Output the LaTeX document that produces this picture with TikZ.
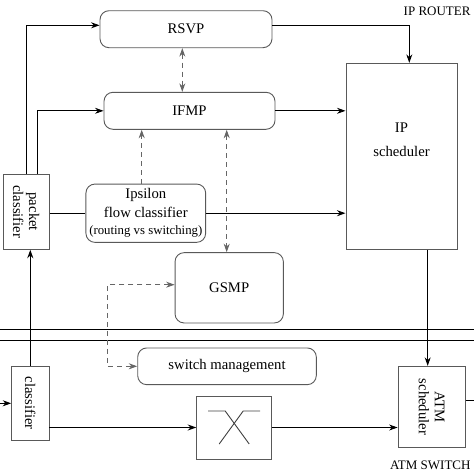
\documentclass[tikz,border=0pt]{standalone}
\usepackage{fontspec}
\setmainfont{Liberation Serif}
\usepackage{tikz}
\usetikzlibrary{arrows.meta}

\tikzset{
  rbox/.style={draw=black!65, line width=0.9pt, rounded corners=9pt, font=\fontsize{14.7}{18.5}\selectfont, align=center},
  sbox/.style={draw=black!65, line width=0.9pt, font=\fontsize{14.7}{18.5}\selectfont, align=center},
  vlabel/.style={rotate=-90, align=center, font=\fontsize{14.7}{16}\selectfont},
  dataline/.style={line width=1.3pt},
  ctrl/.style={line width=0.9pt, dashed, draw=black!60, dash pattern=on 5pt off 4pt},
  partlabel/.style={anchor=base east, font=\fontsize{13}{15}\selectfont, inner sep=1pt}
}

\begin{document}
\begin{tikzpicture}[x=1pt, y=-1pt, >={Stealth[length=8.5pt,width=6pt]}, line width=0.9pt]
        \useasboundingbox (0,0) rectangle (474,474);
        \clip (0,0) rectangle (474,474);
        % IP router part
        \node[rbox, minimum width=172, minimum height=37] (rsvp) at (186,29.2) {RSVP};
        \node[rbox, minimum width=171, minimum height=37] (ifmp) at (189.5,110.8) {IFMP};
        \node[sbox, minimum width=111.7, minimum height=186] (ipsch) at (401.8,156.3) {};
        \node[font=\fontsize{14.7}{18.5}\selectfont, align=center] (ipschtxt) at (401.5,140) {IP\\[5.5pt]scheduler};
        \node[sbox, minimum width=45.7, minimum height=75] (pcls) at (26.2,211.8) {};
        \node[vlabel] (pclstxt) at (pcls) {packet\\classifier};
        \node[rbox, minimum width=118.3, minimum height=58.3] (ipsilon) at (145.8,213.2)
          {Ipsilon\\flow classifier\\[-1pt]{\fontsize{12.8}{14}\selectfont(routing vs switching)}};
        \node[rbox, minimum width=108.3, minimum height=70.3] (gsmp) at (229.2,287.8) {GSMP};
        % ATM switch part
        \node[rbox, minimum width=178.6, minimum height=36.7] (swm) at (227,366.3) {switch management};
        \node[sbox, minimum width=37.3, minimum height=74.7] (cls) at (30.3,403.3) {};
        \node[vlabel] (clstxt) at (cls) {classifier};
        \node[sbox, minimum width=75, minimum height=63] (xbar) at (234.2,427.5) {};
        \node[sbox, minimum width=67.3, minimum height=81.4] (atm) at (431.7,407) {};
        \node[vlabel] (atmtxt) at (atm) {ATM\\scheduler};
        \node[partlabel] (iplbl) at (472,15) {IP ROUTER};
        \node[partlabel] (atmlbl) at (472,469) {ATM SWITCH};
        \coordinate (cin) at (0,403.3);
        \coordinate (aout) at (474,400.3);

        % boundary between router and switch
        \draw[line width=1.3pt] (0,329.3) -- (474,329.3);
        \draw[line width=1.3pt] (0,340.7) -- (474,340.7);

        % crossbar
        \draw[black!75] ([shift={(-26,-16.5)}]xbar.center) -- ([shift={(-9,-16.5)}]xbar.center) -- ([shift={(15,16.5)}]xbar.center);
        \draw[black!75] ([shift={(26,-16.5)}]xbar.center) -- ([shift={(9,-16.5)}]xbar.center) -- ([shift={(-15,16.5)}]xbar.center);

        % solid connectors
        \draw[->] (pcls.north) |- ([yshift=3.9pt]rsvp.west);
        \draw[->] ([xshift=10.8pt]pcls.north) |- (ifmp.west);
        \draw[->] ([yshift=4pt]rsvp.east) -| ([xshift=7.5pt]ipsch.north);
        \draw[->] (ifmp.east) -- (ifmp.east -| ipsch.west);
        \draw[dataline] (ipsilon.west -| pcls.east) -- (ipsilon.west);
        \draw[dataline, ->] (ipsilon.east) -- (ipsilon.east -| ipsch.west);
        \draw[dataline, ->] (cls.north) -- (cls.north |- pcls.south);
        \draw[->] (cin) -- (cls.west);
        \draw[->] (xbar.west -| cls.east) -- (xbar.west);
        \draw[->] (xbar.east) -- (xbar.east -| atm.west);
        \draw[->] ([xshift=-4pt]atm.north |- ipsch.south) -- ([xshift=-4pt]atm.north);
        \draw (aout -| atm.east) -- (aout);

        % control connectors
        \draw[ctrl, <->] ([xshift=-3.7pt]rsvp.south) -- ([xshift=-3.7pt]rsvp.south |- ifmp.north);
        \draw[ctrl, ->] ([xshift=-4.1pt]ipsilon.north) -- ([xshift=-4.1pt]ipsilon.north |- ifmp.south);
        \draw[ctrl, <->] ([xshift=-2.5pt]gsmp.north |- ifmp.south) -- ([xshift=-2.5pt]gsmp.north);
        \draw[ctrl, <->] ([yshift=3.1pt]gsmp.west) -- ++(-67.3,0) |- (swm.west);
\end{tikzpicture}
\end{document}
